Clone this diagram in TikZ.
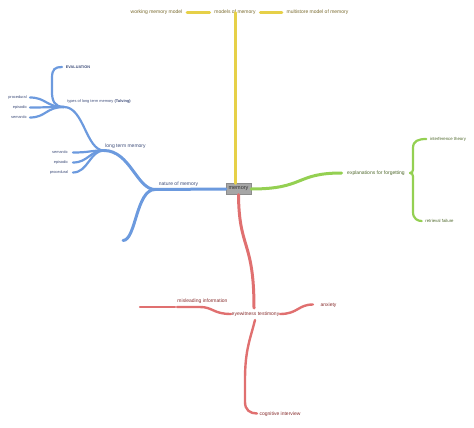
\documentclass[tikz,border=0pt]{standalone}
\usepackage{fontspec}
\setmainfont{Liberation Sans}
\definecolor{cbl}{RGB}{108,154,222}
\definecolor{cye}{RGB}{230,208,72}
\definecolor{cgr}{RGB}{148,208,82}
\definecolor{cre}{RGB}{224,112,112}
\definecolor{tbl}{RGB}{60,75,120}
\definecolor{tye}{RGB}{120,105,45}
\definecolor{tgr}{RGB}{80,105,45}
\definecolor{tre}{RGB}{135,45,45}
\tikzset{
  lbl/.style={inner sep=0.5pt, font=\fontsize{5}{6}\selectfont},
  sml/.style={inner sep=0.5pt, font=\fontsize{3.9}{4.5}\selectfont},
  gsml/.style={inner sep=0.5pt, font=\fontsize{4.3}{5}\selectfont},
  yel/.style={draw=cye, line width=3pt, line cap=round},
  blu/.style={draw=cbl, line width=3pt, line cap=round},
  bluthin/.style={draw=cbl, line width=2.2pt, line cap=round},
  grn/.style={draw=cgr, line width=3pt, line cap=round},
  grnthin/.style={draw=cgr, line width=2.2pt, line cap=round},
  red/.style={draw=cre, line width=3pt, line cap=round},
  redthin/.style={draw=cre, line width=2.4pt, line cap=round},
}
\begin{document}
\begin{tikzpicture}[x=1pt,y=-1pt]
\useasboundingbox (0,0) rectangle (474,428);
% ---------- nodes ----------
\node[fill=black!35, draw=black!45, line width=0.4pt, minimum width=25pt, minimum height=11pt, inner sep=0.5pt, font=\fontsize{5.5}{6}\selectfont, text=black!80] (mem) at (238.5,189) {memory};
% yellow
\node[lbl, text=tye] (mom) at (235,12.5) {models of memory};
\node[lbl, text=tye] (wmm) at (156.5,12.5) {working memory model};
\node[lbl, text=tye] (msm) at (317.5,12.5) {multistore model of memory};
% green
\node[lbl, text=tgr] (exp) at (376,173) {explanations for forgetting};
\node[gsml, text=tgr] (intf) at (448,139) {interference theory};
\node[gsml, text=tgr] (retr) at (439.5,221) {retrieval failure};
\coordinate (gh) at (410,173);
% blue
\node[lbl, text=tbl] (nat) at (178.5,184) {nature of memory};
\coordinate (nh) at (155,189.5);
\coordinate (de) at (123,240.5);
\node[lbl, text=tbl] (ltm) at (125.5,146) {long term memory};
\coordinate (lh) at (104,150.5);
\node[sml, text=tbl] (sem1) at (60,152) {semantic};
\node[sml, text=tbl] (epi1) at (61,162) {episodic};
\node[sml, text=tbl] (pro1) at (59,172) {procedural};
\coordinate (sem1e) at (73,152.5);
\coordinate (epi1e) at (73,162.5);
\coordinate (pro1e) at (73,172.5);
\node[sml, text=tbl] (typ) at (99,102) {types of long term memory \textbf{(Tulving)}};
\coordinate (th) at (64,107);
\node[sml, text=tbl] (pro2) at (17.5,97) {procedural};
\node[sml, text=tbl] (epi2) at (20,107) {episodic};
\node[sml, text=tbl] (sem2) at (19,117) {semantic};
\coordinate (pro2e) at (30,97.5);
\coordinate (epi2e) at (30,107.5);
\coordinate (sem2e) at (30,117.5);
\node[inner sep=0.5pt, text=tbl, font=\fontsize{3.8}{4.5}\selectfont\bfseries] (eva) at (78,67) {EVALUATION};
\coordinate (evae) at (62,67);
% red
\node[lbl, text=tre] (eye) at (255.5,314) {eyewitness testimony};
\node[lbl, text=tre] (mis) at (202.5,301) {misleading information};
\node[lbl, text=tre] (anx) at (328.5,305) {anxiety};
\node[lbl, text=tre] (cog) at (280,414) {cognitive interview};
\coordinate (eyetop) at (254,308);
\coordinate (eyebot) at (255,320);
\coordinate (misl) at (177,307);
\coordinate (mise) at (140,307);
\coordinate (misl2) at (175,307);
\coordinate (anxe) at (313,304.5);
\coordinate (coge) at (257,413.5);
% ---------- connectors ----------
% yellow
\draw[yel] (mom.south |- mem.north) -- ([yshift=3pt]mom.south);
\draw[yel, shorten <=4pt, shorten >=4pt] (wmm.east) -- (mom.west);
\draw[yel, shorten <=4pt, shorten >=4pt] (mom.east) -- (msm.west);
% green
\draw[grn] (mem.east) .. controls (305,189) and (295,173) .. ([xshift=-5pt]exp.west);
\draw[grnthin] (gh) .. controls (414,173) and (413,168) .. (413,160) -- (413,148) .. controls (413,141) and (418,139) .. ([xshift=-3pt]intf.west);
\draw[grnthin] (gh) .. controls (414,173) and (413,178) .. (413,186) -- (413,212) .. controls (413,219) and (418,221) .. ([xshift=-3pt]retr.west);
% blue
\draw[blu] (mem.west) -- (nh);
\draw[blu] (nh) .. controls (137,189.5) and (130,150.5) .. (lh);
\draw[blu] (nh) .. controls (136,189.5) and (136,240.5) .. (de);
\draw[bluthin] (lh) .. controls (90,150.5) and (90,152.5) .. (sem1e);
\draw[bluthin] (lh) .. controls (90,150.5) and (88,162.5) .. (epi1e);
\draw[bluthin] (lh) .. controls (90,150.5) and (88,172.5) .. (pro1e);
\draw[bluthin] (lh) .. controls (86,150.5) and (84,107) .. (th);
\draw[bluthin] (th) .. controls (46,107) and (46,97.5) .. (pro2e);
\draw[bluthin] (th) .. controls (46,107) and (46,107.5) .. (epi2e);
\draw[bluthin] (th) .. controls (46,107) and (46,117.5) .. (sem2e);
\draw[bluthin] (th) .. controls (54,107) and (52,100) .. (52,92) -- (52,78) .. controls (52,69) and (55,67) .. (evae);
% red
\draw[red] (mem.south) .. controls (239,250) and (254,240) .. (eyetop);
\draw[redthin] (eye.west) .. controls (213,314) and (213,307) .. (200,307) -- (misl);
\draw[redthin] (misl2) -- (mise);
\draw[redthin] (eye.east) .. controls (298,314) and (298,304.5) .. (anxe);
\draw[redthin] (eyebot) .. controls (250,340) and (245,350) .. (245,380) -- (245,402) .. controls (245,410) and (250,413.5) .. (coge);
\end{tikzpicture}
\end{document}
